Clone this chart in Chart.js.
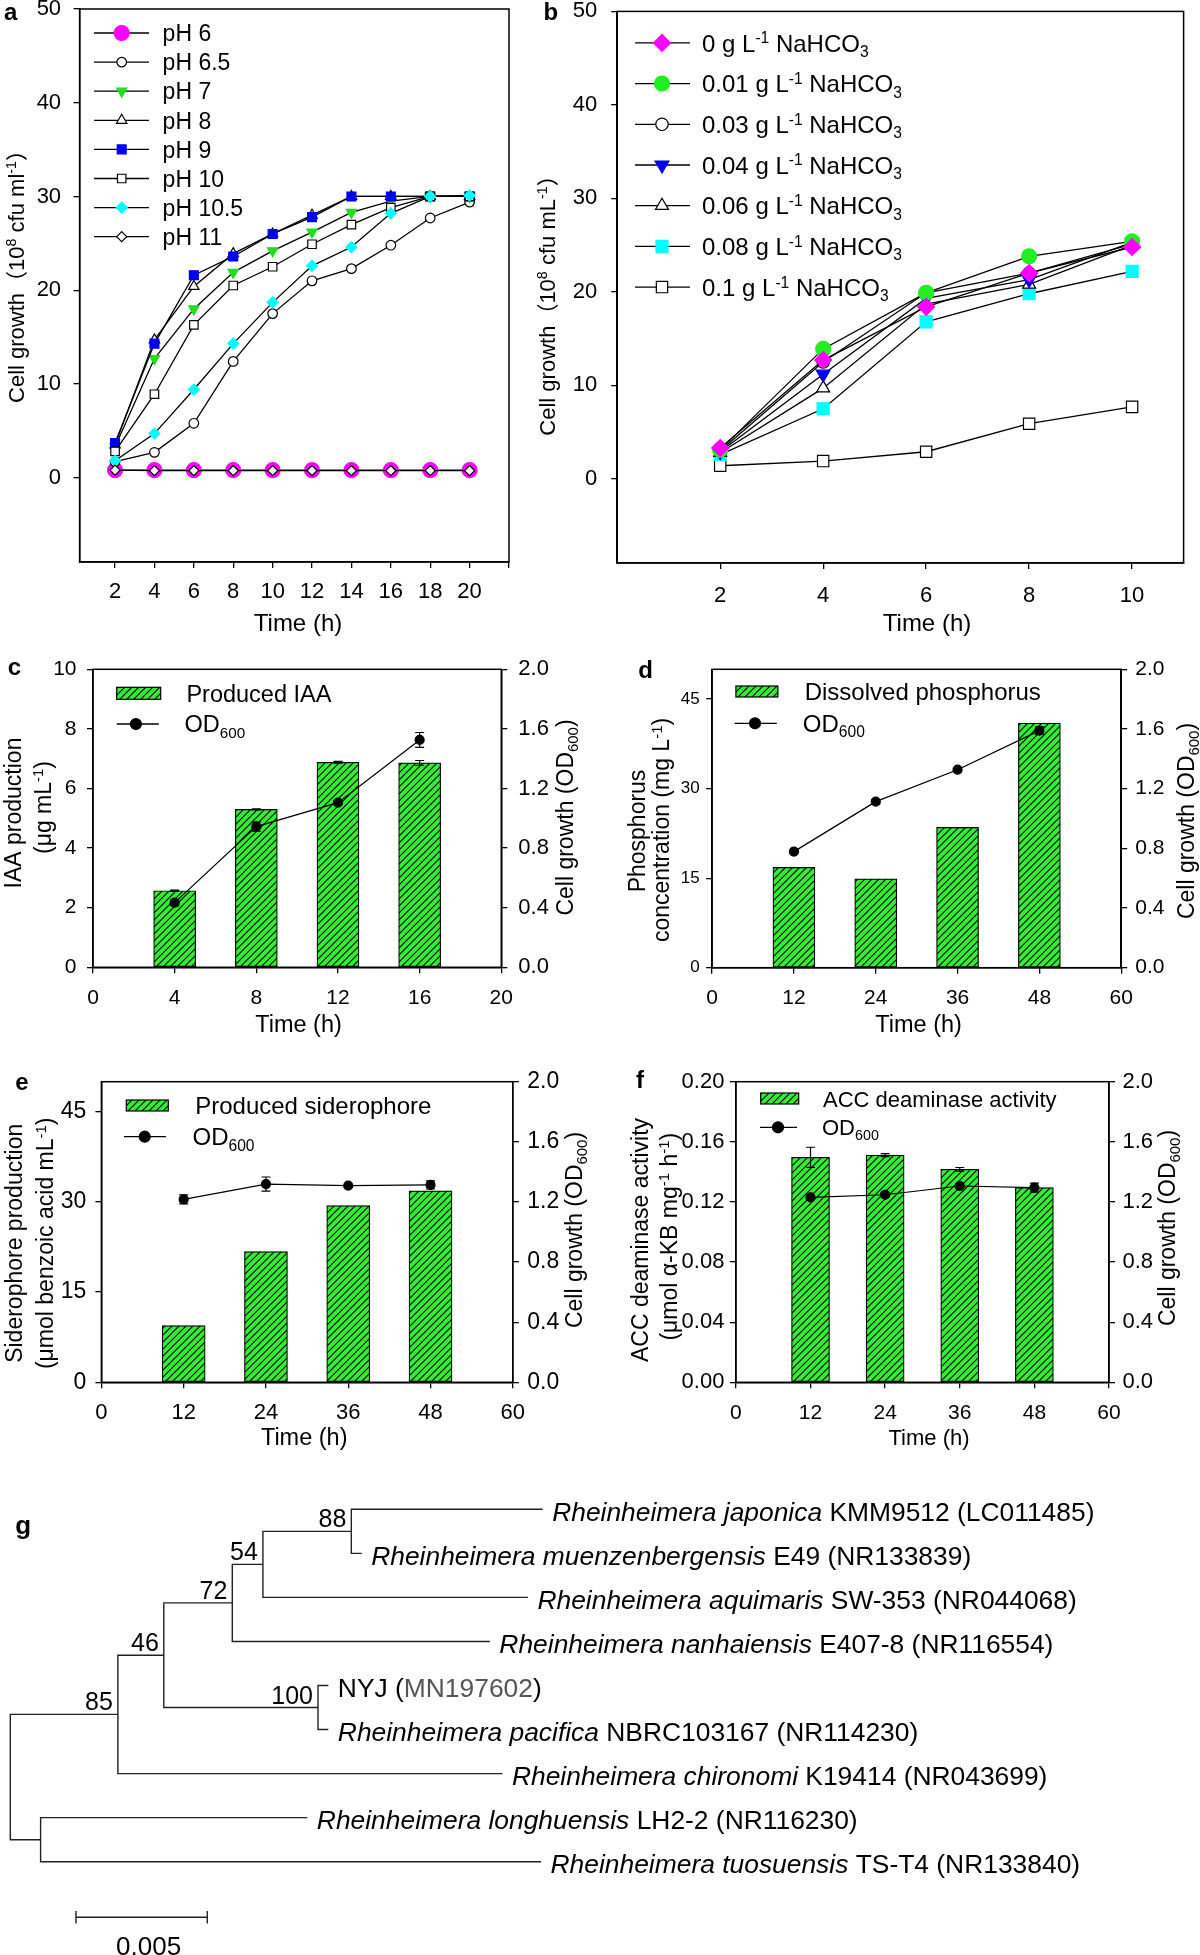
<!DOCTYPE html>
<html><head><meta charset="utf-8">
<script src="https://cdn.jsdelivr.net/npm/chart.js@4.4.1/dist/chart.umd.min.js"></script>
<style>
html,body{margin:0;padding:0;background:#fff;}
body{position:relative;width:1200px;height:1955px;overflow:hidden;}
canvas{position:absolute;}
</style></head><body>
<script>
const FONT = '"Liberation Sans", Arial, Helvetica, "Noto Sans CJK SC", sans-serif';

// ---------------- Panel a : growth vs pH ----------------
const aTime = [2, 4, 6, 8, 10, 12, 14, 16, 18, 20];
const aNames = ['pH 6', 'pH 6.5', 'pH 7', 'pH 8', 'pH 9', 'pH 10', 'pH 10.5', 'pH 11'];
const aPH6   = [0.8, 0.8, 0.8, 0.8, 0.8, 0.8, 0.8, 0.8, 0.8, 0.8];
const aPH65  = [1.7, 2.7, 5.8, 12.4, 17.5, 21.0, 22.3, 24.8, 27.7, 29.4];
const aPH7   = [3.3, 12.7, 18.0, 21.9, 24.2, 26.2, 28.3, 29.5, 30.0, 30.0];
const aPH8   = [3.5, 14.7, 20.4, 23.9, 26.0, 28.0, 30.0, 30.0, 30.0, 30.0];
const aPH9   = [3.7, 14.3, 21.6, 23.6, 26.0, 27.8, 30.0, 30.0, 30.0, 30.0];
const aPH10  = [2.8, 8.9, 16.3, 20.5, 22.5, 24.9, 27.0, 28.8, 30.0, 30.0];
const aPH105 = [1.8, 4.7, 9.4, 14.3, 18.7, 22.6, 24.6, 28.2, 30.0, 30.1];
const aPH11  = [0.8, 0.75, 0.75, 0.75, 0.75, 0.75, 0.75, 0.75, 0.75, 0.75];
const aXTicks = [2, 4, 6, 8, 10, 12, 14, 16, 18, 20, 22];
const aXLabels = [2, 4, 6, 8, 10, 12, 14, 16, 18, 20];
const aYTicks = [0, 10, 20, 30, 40, 50];

// ---------------- Panel b : growth vs NaHCO3 ----------------
const bTime = [2, 4, 6, 8, 10];
const bNames = ['0', '0.01', '0.03', '0.04', '0.06', '0.08', '0.1'];
const b000 = [3.3, 12.7, 18.4, 22.0, 24.8];
const b001 = [3.1, 13.9, 19.9, 23.8, 25.4];
const b003 = [3.0, 12.5, 19.9, 22.0, 25.1];
const b004 = [2.9, 11.2, 19.3, 21.3, 25.3];
const b006 = [2.8, 9.7, 18.7, 20.8, 25.0];
const b008 = [2.6, 7.5, 16.8, 19.8, 22.2];
const b010 = [1.4, 1.9, 2.9, 5.9, 7.7];
const bXTicks = [2, 4, 6, 8, 10];
const bYTicks = [0, 10, 20, 30, 40, 50];

// ---------------- Panel c : IAA ----------------
const cTime = [4, 8, 12, 16];
const cIAA = [2.57, 5.30, 6.88, 6.86];
const cIAAErr = [0.02, 0.02, 0.03, 0.08];
const cOD = [0.434, 0.944, 1.105, 1.526];
const cODErr = [0.02, 0.03, 0.01, 0.05];
const cXTicks = [0, 4, 8, 12, 16, 20];
const cYTicks = [0, 2, 4, 6, 8, 10];

// ---------------- Panel d : phosphorus ----------------
const dTime = [12, 24, 36, 48];
const dP = [16.8, 14.9, 23.5, 41.0];
const dPErr = [0, 0, 0, 0];
const dOD = [0.778, 1.113, 1.327, 1.589];
const dODErr = [0.012, 0.012, 0.008, 0.025];
const dXTicks = [0, 12, 24, 36, 48, 60];
const dYTicks = [0, 15, 30, 45];

// ---------------- Panel e : siderophore ----------------
const eTime = [12, 24, 36, 48];
const eS = [9.43, 21.75, 29.4, 31.85];
const eSErr = [0, 0, 0, 0];
const eOD = [1.217, 1.319, 1.308, 1.313];
const eODErr = [0.03, 0.047, 0.008, 0.027];
const eXTicks = [0, 12, 24, 36, 48, 60];
const eYTicks = [0, 15, 30, 45];

// ---------------- Panel f : ACC deaminase ----------------
const fTime = [12, 24, 36, 48];
const fACC = [0.1497, 0.1512, 0.1417, 0.1295];
const fACCErr = [0.0067, 0.001, 0.0012, 0.001];
const fOD = [1.231, 1.248, 1.306, 1.295];
const fODErr = [0.012, 0.012, 0.015, 0.03];
const fXTicks = [0, 12, 24, 36, 48, 60];
const fYTicks = [0, 0.04, 0.08, 0.12, 0.16, 0.20];

const odTicks = [0, 0.4, 0.8, 1.2, 1.6, 2.0];

// ---------------- Panel g : phylogenetic tree ----------------
const leafSpecies = ['Rheinheimera japonica', 'Rheinheimera muenzenbergensis', 'Rheinheimera aquimaris',
  'Rheinheimera nanhaiensis', '', 'Rheinheimera pacifica', 'Rheinheimera chironomi',
  'Rheinheimera longhuensis', 'Rheinheimera tuosuensis'];
const leafStrain = [' KMM9512', ' E49', ' SW-353', ' E407-8', 'NYJ', ' NBRC103167', ' K19414', ' LH2-2', ' TS-T4'];
const leafAcc = ['LC011485', 'NR133839', 'NR044068', 'NR116554', 'MN197602', 'NR114230', 'NR043699', 'NR116230', 'NR133840'];
const leafDepth = [0.02027, 0.01338, 0.01971, 0.01826, 0.01211, 0.01211, 0.01874, 0.01131, 0.02021];
const nodeIds   = ['n88', 'n54', 'n72', 'n100', 'n46', 'n85', 'nL', 'root'];
const nodeKids  = [['L0', 'L1'], ['n88', 'L2'], ['n54', 'L3'], ['L4', 'L5'], ['n72', 'n100'], ['n46', 'L6'], ['L7', 'L8'], ['n85', 'nL']];
const nodeDepth = [0.012985, 0.009619, 0.008453, 0.011717, 0.005845, 0.004097, 0.001154, 0];
const nodeBoot  = ['88', '54', '72', '100', '46', '85', '', ''];
const scaleBarStart = 0.0025, scaleBarLen = 0.005, scaleBarRow = 9.262;

// ---------------- helpers ----------------
const T = (t, o) => Object.assign({ t }, o || {});
function drawRich(ctx, segs, x, y, size, opt) {
  opt = opt || {};
  ctx.save();
  ctx.translate(x, y);
  if (opt.rot) ctx.rotate(opt.rot * Math.PI / 180);
  const fontOf = s => (s.it ? 'italic ' : '') + (s.b ? 'bold ' : '') + ((s.sup || s.sub) ? size * 0.65 : size) + 'px ' + FONT;
  let w = 0;
  for (const s of segs) { ctx.font = fontOf(s); w += ctx.measureText(s.t).width; }
  let cx = opt.align === 'left' ? 0 : opt.align === 'right' ? -w : -w / 2;
  ctx.textAlign = 'left'; ctx.textBaseline = 'alphabetic';
  const base = opt.baseline ? 0 : 0.36 * size;
  for (const s of segs) {
    ctx.font = fontOf(s);
    ctx.fillStyle = s.c || '#000';
    const dy = s.sup ? -0.34 * size : s.sub ? 0.22 * size : 0;
    ctx.fillText(s.t, cx, base + dy);
    cx += ctx.measureText(s.t).width;
  }
  ctx.restore();
}
function letter(ctx, ch, x, y, size) {
  ctx.save(); ctx.font = 'bold ' + (size || 24) + 'px ' + FONT; ctx.fillStyle = '#000';
  ctx.textAlign = 'left'; ctx.textBaseline = 'alphabetic'; ctx.fillText(ch, x, y); ctx.restore();
}
function drawMarker(ctx, st, x, y) {
  ctx.save();
  ctx.fillStyle = st.bg; ctx.strokeStyle = st.bd; ctx.lineWidth = 1.2;
  if (Chart.helpers && Chart.helpers.drawPoint) {
    Chart.helpers.drawPoint(ctx, { pointStyle: st.ps, radius: st.r, rotation: st.rot || 0, borderWidth: 1.2 }, x, y);
  } else {
    ctx.beginPath(); ctx.arc(x, y, st.r, 0, Math.PI * 2); ctx.fill(); ctx.stroke();
  }
  ctx.restore();
}
function legendLine(ctx, st, x1, x2, mx, y) {
  ctx.save(); ctx.strokeStyle = '#000'; ctx.lineWidth = 1.3;
  ctx.beginPath(); ctx.moveTo(x1, y); ctx.lineTo(x2, y); ctx.stroke(); ctx.restore();
  drawMarker(ctx, st, mx, y);
}
function barSwatch(ctx, pat, x, y, w, h) {
  ctx.save(); ctx.fillStyle = pat; ctx.fillRect(x, y, w, h);
  ctx.strokeStyle = '#000'; ctx.lineWidth = 1.2; ctx.strokeRect(x, y, w, h); ctx.restore();
}
function makeHatch(ctx) {
  const s = 7, c = document.createElement('canvas'); c.width = s; c.height = s;
  const g = c.getContext('2d');
  g.fillStyle = '#33ee33'; g.fillRect(0, 0, s, s);
  g.strokeStyle = '#000'; g.lineWidth = 1.1; g.beginPath();
  g.moveTo(0, s); g.lineTo(s, 0); g.moveTo(-1, 1); g.lineTo(1, -1); g.moveTo(s - 1, s + 1); g.lineTo(s + 1, s - 1);
  g.stroke();
  return ctx.createPattern(c, 'repeat');
}
function mkCanvas(ox, oy, w, h) {
  const c = document.createElement('canvas');
  c.width = w; c.height = h;
  c.style.left = ox + 'px'; c.style.top = oy + 'px'; c.style.width = w + 'px'; c.style.height = h + 'px';
  document.body.appendChild(c);
  return c;
}
function axis(o) {
  return {
    type: 'linear', position: o.pos, min: o.min, max: o.max, offset: false, display: true,
    grid: { drawOnChartArea: false, drawTicks: true, tickLength: 6, color: '#000', lineWidth: 1.3, offset: false },
    border: { display: true, color: '#000', width: 1.5 },
    ticks: { color: '#000', font: { family: FONT, size: o.size }, padding: o.pad, autoSkip: false,
      maxRotation: 0, minRotation: 0, callback: o.fmt || (v => String(v)) },
    afterBuildTicks: s => { s.ticks = o.ticks.map(v => ({ value: v })); },
    afterFit: s => { o.fit(s); s.paddingTop = 0; s.paddingBottom = 0; s.paddingLeft = 0; s.paddingRight = 0; }
  };
}
const framePlugin = {
  id: 'frame',
  beforeDatasetsDraw(chart) {
    const a = chart.chartArea, ctx = chart.ctx;
    ctx.save(); ctx.strokeStyle = '#000'; ctx.lineWidth = 1.5;
    ctx.strokeRect(a.left, a.top, a.right - a.left, a.bottom - a.top); ctx.restore();
  }
};
const errPlugin = {
  id: 'errs',
  afterDatasetsDraw(chart) {
    const ctx = chart.ctx;
    chart.data.datasets.forEach((ds, i) => {
      if (!ds.errs) return;
      const meta = chart.getDatasetMeta(i);
      const ys = chart.scales[meta.yAxisID];
      ctx.save(); ctx.strokeStyle = '#000'; ctx.lineWidth = 1.2;
      meta.data.forEach((el, j) => {
        const v = ds.data[j].y, e = ds.errs[j];
        if (!e) return;
        const x = el.x, y1 = ys.getPixelForValue(v + e), y2 = ys.getPixelForValue(v - e);
        ctx.beginPath();
        ctx.moveTo(x, y1); ctx.lineTo(x, y2);
        ctx.moveTo(x - 4.5, y1); ctx.lineTo(x + 4.5, y1);
        ctx.moveTo(x - 4.5, y2); ctx.lineTo(x + 4.5, y2);
        ctx.stroke();
      });
      ctx.restore();
    });
  }
};
function decorPlugin(ox, oy, fn) {
  return { id: 'decor', afterDraw(chart) { const ctx = chart.ctx; ctx.save(); ctx.translate(-ox, -oy); fn(ctx, chart); ctx.restore(); } };
}
const baseOpts = () => ({ responsive: false, animation: false, events: [], plugins: { legend: { display: false }, tooltip: { enabled: false } } });

const timeTitle = [T('Time (h)')];
const odTitle = [T('Cell growth (OD'), T('600', { sub: 1 }), T(')')];
const odLeg = [T('OD'), T('600', { sub: 1 })];
const odSty = { ps: 'circle', r: 5.5, bg: '#000', bd: '#000', rot: 0 };

// ================= Panel a =================
(function () {
  const ox = 0, oy = 0, W = 600, H = 640, L = 79.6, Tp = 9, R = 509, B = 562;
  const c = mkCanvas(ox, oy, W, H);
  const series = [aPH6, aPH65, aPH7, aPH8, aPH9, aPH10, aPH105, aPH11];
  const sty = [
    { ps: 'circle', r: 7.5, bg: '#ff00ff', bd: '#ff00ff', rot: 0 },
    { ps: 'circle', r: 4.8, bg: '#ffffff', bd: '#000000', rot: 0 },
    { ps: 'triangle', r: 6, bg: '#22dd22', bd: '#22dd22', rot: 180 },
    { ps: 'triangle', r: 6, bg: '#ffffff', bd: '#000000', rot: 0 },
    { ps: 'rect', r: 6.3, bg: '#0000ee', bd: '#0000ee', rot: 0 },
    { ps: 'rect', r: 6, bg: '#ffffff', bd: '#000000', rot: 0 },
    { ps: 'rectRot', r: 5.5, bg: '#00ffff', bd: '#00ffff', rot: 0 },
    { ps: 'rectRot', r: 5, bg: '#ffffff', bd: '#000000', rot: 0 }
  ];
  const datasets = series.map((ys, k) => ({
    data: aTime.map((x, i) => ({ x, y: ys[i] })), borderColor: '#000', borderWidth: 1.3,
    pointStyle: sty[k].ps, pointRadius: sty[k].r, pointRotation: sty[k].rot,
    pointBackgroundColor: sty[k].bg, pointBorderColor: sty[k].bd, pointBorderWidth: 1.2,
    order: series.length - 1 - k, tension: 0
  }));
  const o = baseOpts();
  o.layout = { padding: { left: 0, top: Tp - oy, right: ox + W - R, bottom: 0 } };
  o.scales = {
    x: axis({ pos: 'bottom', min: 0.2, max: 22, ticks: aXTicks, size: 22, pad: 11,
      fmt: v => aXLabels.includes(v) ? String(v) : '', fit: s => { s.height = oy + H - B; } }),
    y: axis({ pos: 'left', min: -9, max: 50, ticks: aYTicks, size: 22, pad: 12.5, fit: s => { s.width = L - ox; } })
  };
  new Chart(c, { type: 'line', data: { datasets }, options: o, plugins: [framePlugin, decorPlugin(ox, oy, ctx => {
    letter(ctx, 'a', 4, 20.4);
    drawRich(ctx, [T('Cell growth（10'), T('8', { sup: 1 }), T(' cfu ml'), T('-1', { sup: 1 }), T('）')], 16, 271, 22, { rot: -90 });
    drawRich(ctx, timeTitle, 298, 622, 24);
    aNames.forEach((n, i) => {
      const y = 33 + 29.1 * i;
      legendLine(ctx, sty[i], 94, 149, 121.7, y);
      drawRich(ctx, [T(n)], 162.6, y, 23, { align: 'left' });
    });
  })] });
})();

// ================= Panel b =================
(function () {
  const ox = 520, oy = 0, W = 680, H = 640, L = 617.2, Tp = 11.4, R = 1183.6, B = 563;
  const c = mkCanvas(ox, oy, W, H);
  const series = [b000, b001, b003, b004, b006, b008, b010];
  const sty = [
    { ps: 'rectRot', r: 8.5, bg: '#ff00ff', bd: '#ff00ff', rot: 0 },
    { ps: 'circle', r: 7.5, bg: '#22ee22', bd: '#22ee22', rot: 0 },
    { ps: 'circle', r: 6.2, bg: '#ffffff', bd: '#000000', rot: 0 },
    { ps: 'triangle', r: 8, bg: '#0000ee', bd: '#0000ee', rot: 180 },
    { ps: 'triangle', r: 7.5, bg: '#ffffff', bd: '#000000', rot: 0 },
    { ps: 'rect', r: 8.5, bg: '#00ffff', bd: '#00ffff', rot: 0 },
    { ps: 'rect', r: 8, bg: '#ffffff', bd: '#000000', rot: 0 }
  ];
  const datasets = series.map((ys, k) => ({
    data: bTime.map((x, i) => ({ x, y: ys[i] })), borderColor: '#000', borderWidth: 1.3,
    pointStyle: sty[k].ps, pointRadius: sty[k].r, pointRotation: sty[k].rot,
    pointBackgroundColor: sty[k].bg, pointBorderColor: sty[k].bd, pointBorderWidth: 1.2, tension: 0
  }));
  const o = baseOpts();
  o.layout = { padding: { left: 0, top: Tp - oy, right: ox + W - R, bottom: 0 } };
  o.scales = {
    x: axis({ pos: 'bottom', min: 0, max: 11, ticks: bXTicks, size: 22, pad: 14, fit: s => { s.height = oy + H - B; } }),
    y: axis({ pos: 'left', min: -9, max: 50, ticks: bYTicks, size: 22, pad: 14, fit: s => { s.width = L - ox; } })
  };
  new Chart(c, { type: 'line', data: { datasets }, options: o, plugins: [framePlugin, decorPlugin(ox, oy, ctx => {
    letter(ctx, 'b', 543.4, 20.4);
    drawRich(ctx, [T('Cell growth（10'), T('8', { sup: 1 }), T(' cfu mL'), T('-1', { sup: 1 }), T('）')], 547, 300, 22, { rot: -90 });
    drawRich(ctx, timeTitle, 927, 622, 24);
    bNames.forEach((n, i) => {
      const y = 42.9 + 40.7 * i;
      legendLine(ctx, sty[i], 635, 690, 662, y);
      drawRich(ctx, [T(n + ' g L'), T('-1', { sup: 1 }), T(' NaHCO'), T('3', { sub: 1 })], 702, y, 24, { align: 'left' });
    });
  })] });
})();

// ================= Bar panels c-f =================
function barPanel(p) {
  const c = mkCanvas(p.ox, p.oy, p.W, p.H);
  const ctx0 = c.getContext('2d');
  const hatch = makeHatch(ctx0);
  const o = baseOpts();
  o.layout = { padding: { left: 0, top: p.T - p.oy, right: 0, bottom: 0 } };
  o.scales = {
    x: axis({ pos: 'bottom', min: p.xTicks[0], max: p.xTicks[p.xTicks.length - 1], ticks: p.xTicks, size: p.xSize, pad: p.xPad,
      fit: s => { s.height = p.oy + p.H - p.B; } }),
    y: axis({ pos: 'left', min: p.yMin, max: p.yMax, ticks: p.yTicks, size: p.ySize, pad: p.yPad, fmt: p.yFmt,
      fit: s => { s.width = p.L - p.ox; } }),
    y1: axis({ pos: 'right', min: 0, max: 2.0, ticks: odTicks, size: p.y1Size, pad: p.y1Pad, fmt: v => v.toFixed(1),
      fit: s => { s.width = p.ox + p.W - p.R; } })
  };
  const datasets = [
    { type: 'line', data: p.time.map((x, i) => ({ x, y: p.od[i] })), errs: p.odErr, yAxisID: 'y1',
      borderColor: '#000', borderWidth: 1.2, pointRadius: 4.5, pointStyle: 'circle',
      pointBackgroundColor: '#000', pointBorderColor: '#000', order: 0, tension: 0 },
    { type: 'bar', data: p.time.map((x, i) => ({ x, y: p.bars[i] })), errs: p.barErr, yAxisID: 'y',
      backgroundColor: hatch, borderColor: '#000', borderWidth: 1.2, borderSkipped: false,
      barThickness: p.barW, order: 1 }
  ];
  new Chart(c, { type: 'bar', data: { datasets }, options: o, plugins: [framePlugin, errPlugin, decorPlugin(p.ox, p.oy, ctx => {
    letter(ctx, p.letter[0], p.letter[1], p.letter[2]);
    drawRich(ctx, p.y1Title, p.y1Pos[0], p.y1Pos[1], 23, { rot: -90 });
    drawRich(ctx, p.y2Title, p.y2Pos[0], p.y2Pos[1], 23, { rot: -90 });
    drawRich(ctx, odTitle, p.rPos[0], p.rPos[1], 23, { rot: -90 });
    drawRich(ctx, timeTitle, p.xPos[0], p.xPos[1], p.xtSize);
    const lg = p.leg;
    barSwatch(ctx, hatch, lg.sx, lg.sy, lg.sw, lg.sh);
    drawRich(ctx, [T(p.barName)], lg.tx, lg.ty, lg.fs, { align: 'left' });
    legendLine(ctx, odSty, lg.lx1, lg.lx2, lg.mx, lg.oy);
    drawRich(ctx, odLeg, lg.otx, lg.oy, lg.fs, { align: 'left' });
  })] });
}

barPanel({ ox: 0, oy: 640, W: 600, H: 410, L: 93, T: 669.3, R: 501.3, B: 967.3,
  time: cTime, bars: cIAA, barErr: cIAAErr, od: cOD, odErr: cODErr, barW: 42,
  xTicks: cXTicks, xSize: 21, xPad: 12,
  yMin: 0, yMax: 10, yTicks: cYTicks, ySize: 21, yPad: 10.5, yFmt: v => String(v),
  y1Size: 22, y1Pad: 11,
  letter: ['c', 7.7, 675],
  y1Title: [T('IAA production')], y1Pos: [12.6, 813],
  y2Title: [T('(μg mL'), T('-1', { sup: 1 }), T(')')], y2Pos: [43, 807.5],
  rPos: [565, 817.5], xPos: [298.5, 1023.3], xtSize: 23.5,
  barName: 'Produced IAA',
  leg: { sx: 116.7, sy: 687.3, sw: 44, sh: 12, tx: 186.4, ty: 693.3, fs: 23.5, lx1: 116.7, lx2: 158.8, mx: 135.9, oy: 724, otx: 184.5 } });

barPanel({ ox: 600, oy: 640, W: 600, H: 410, L: 712.1, T: 669.3, R: 1121.2, B: 967.7,
  time: dTime, bars: dP, barErr: dPErr, od: dOD, odErr: dODErr, barW: 42,
  xTicks: dXTicks, xSize: 21, xPad: 12,
  yMin: 0, yMax: 50, yTicks: dYTicks, ySize: 17, yPad: 6.5, yFmt: v => String(v),
  y1Size: 21, y1Pad: 8,
  letter: ['d', 638.3, 678],
  y1Title: [T('Phosphorus')], y1Pos: [636.4, 831],
  y2Title: [T('concentration (mg L'), T('-1', { sup: 1 }), T(')')], y2Pos: [661.2, 830],
  rPos: [1185.5, 821], xPos: [918.6, 1023.3], xtSize: 23.5,
  barName: 'Dissolved phosphorus',
  leg: { sx: 735.9, sy: 686, sw: 42, sh: 11, tx: 804.7, ty: 691.7, fs: 24, lx1: 734.7, lx2: 776.8, mx: 755, oy: 723.3, otx: 802.8 } });

barPanel({ ox: 0, oy: 1050, W: 600, H: 410, L: 101.4, T: 1081.7, R: 512.8, B: 1382.3,
  time: eTime, bars: eS, barErr: eSErr, od: eOD, odErr: eODErr, barW: 43,
  xTicks: eXTicks, xSize: 22, xPad: 11,
  yMin: 0, yMax: 50, yTicks: eYTicks, ySize: 23, yPad: 9, yFmt: v => String(v),
  y1Size: 23, y1Pad: 8.5,
  letter: ['e', 15.3, 1090],
  y1Title: [T('Siderophore production')], y1Pos: [13.4, 1243.3],
  y2Title: [T('(μmol benzoic acid mL'), T('-1', { sup: 1 }), T(')')], y2Pos: [45.2, 1243.3],
  rPos: [574, 1230], xPos: [304.2, 1436.7], xtSize: 23.5,
  barName: 'Produced siderophore',
  leg: { sx: 126.3, sy: 1100, sw: 42, sh: 11, tx: 195.2, ty: 1105, fs: 24, lx1: 124, lx2: 166, mx: 144.7, oy: 1136.7, otx: 192.5 } });

barPanel({ ox: 600, oy: 1050, W: 600, H: 410, L: 735.9, T: 1081.7, R: 1109, B: 1382.3,
  time: fTime, bars: fACC, barErr: fACCErr, od: fOD, odErr: fODErr, barW: 38,
  xTicks: fXTicks, xSize: 21, xPad: 12,
  yMin: 0, yMax: 0.2, yTicks: fYTicks, ySize: 22, yPad: 5.5, yFmt: v => v.toFixed(2),
  y1Size: 22, y1Pad: 7.5,
  letter: ['f', 636, 1088.3],
  y1Title: [T('ACC deaminase activity')], y1Pos: [640.2, 1240],
  y2Title: [T('(μmol α-KB mg'), T('-1', { sup: 1 }), T(' h'), T('-1', { sup: 1 }), T(')')], y2Pos: [668.9, 1236.7],
  rPos: [1166.4, 1228], xPos: [929, 1436.7], xtSize: 22,
  barName: 'ACC deaminase activity',
  leg: { sx: 760.7, sy: 1093, sw: 38, sh: 11, tx: 823, ty: 1099.3, fs: 22, lx1: 760, lx2: 797, mx: 778, oy: 1127.3, otx: 822 } });

// ================= Panel g : tree =================
(function () {
  const ox = 0, oy = 1460, W = 1200, H = 495;
  const c = mkCanvas(ox, oy, W, H);
  function pos(id) {
    if (id[0] === 'L') { const i = +id.slice(1); return { x: leafDepth[i], y: i }; }
    const k = nodeIds.indexOf(id);
    const kids = nodeKids[k].map(pos);
    return { x: nodeDepth[k], y: (kids[0].y + kids[kids.length - 1].y) / 2 };
  }
  const segs = [];
  nodeIds.forEach((id, k) => {
    const p = pos(id), k0 = pos(nodeKids[k][0]), k1 = pos(nodeKids[k][nodeKids[k].length - 1]);
    segs.push({ x: k0.x, y: k0.y }, { x: p.x, y: k0.y }, { x: p.x, y: k1.y }, { x: k1.x, y: k1.y }, { x: null, y: null });
  });
  const a = scaleBarStart, b = scaleBarStart + scaleBarLen, r = scaleBarRow, t = 0.14;
  const bar = [{ x: a, y: r - t }, { x: a, y: r + t }, { x: null, y: null }, { x: a, y: r }, { x: b, y: r }, { x: null, y: null }, { x: b, y: r - t }, { x: b, y: r + t }];
  const o = baseOpts();
  o.layout = { padding: { left: 10.3, right: 139.2, top: 5.25, bottom: 5.2 } };
  o.scales = { x: { type: 'linear', min: 0, max: 0.04, display: false }, y: { type: 'linear', min: -1, max: 10, reverse: true, display: false } };
  const lineStyle = { showLine: true, borderColor: '#222', borderWidth: 1.4, pointRadius: 0, clip: false, spanGaps: false, tension: 0 };
  new Chart(c, { type: 'scatter', data: { datasets: [Object.assign({ data: segs }, lineStyle), Object.assign({ data: bar }, lineStyle)] },
    options: o, plugins: [decorPlugin(ox, oy, (ctx, chart) => {
      const xs = chart.scales.x, ys = chart.scales.y;
      const px = v => xs.getPixelForValue(v) + ox, py = v => ys.getPixelForValue(v) + oy;
      letter(ctx, 'g', 15.3, 1534, 26);
      leafSpecies.forEach((sp, i) => {
        const segsT = [];
        if (sp) segsT.push(T(sp, { it: 1 }));
        segsT.push(T(leafStrain[i] + ' ('), T(leafAcc[i], { c: i === 4 ? '#555555' : '#000' }), T(')'));
        drawRich(ctx, segsT, px(leafDepth[i]) + 9.5, py(i) + 2, 26.4, { align: 'left' });
      });
      nodeIds.forEach((id, k) => {
        if (!nodeBoot[k]) return;
        const p = pos(id);
        ctx.save(); ctx.font = '25px ' + FONT; ctx.fillStyle = '#000'; ctx.textAlign = 'right'; ctx.textBaseline = 'alphabetic';
        ctx.fillText(nodeBoot[k], px(p.x) - 5, py(p.y) - 4); ctx.restore();
      });
      drawRich(ctx, [T('0.005')], px(scaleBarStart + scaleBarLen / 2) + 7, py(scaleBarRow) + 28, 26);
    })] });
})();
</script>
</body></html>
